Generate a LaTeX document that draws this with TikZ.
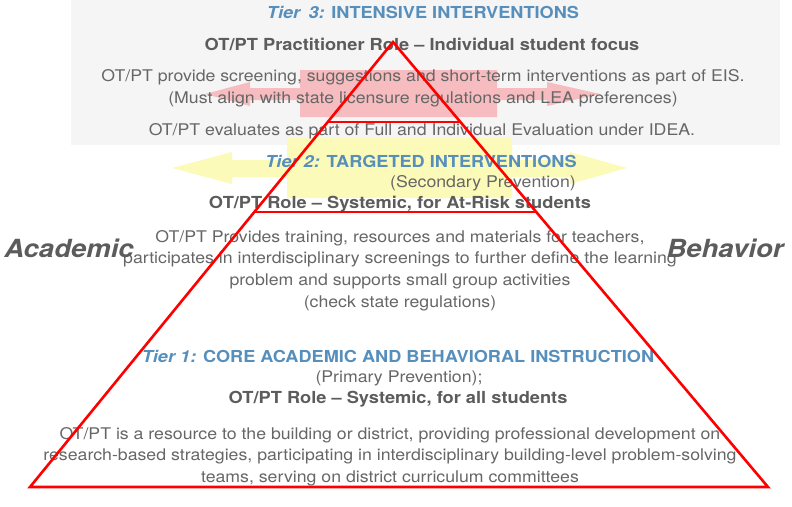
\documentclass[tikz,border=0pt]{standalone}
\usepackage{fontspec}
\setmainfont[FakeStretch=1.1]{TeX Gyre Heros}
\usepackage{xcolor}
\usetikzlibrary{positioning, calc}

\definecolor{tierblue}{RGB}{86,142,188}
\definecolor{txtgray}{RGB}{92,92,92}
\definecolor{bodygray}{RGB}{102,102,102}
\definecolor{bggray}{RGB}{245,245,245}
\definecolor{arrowpink}{RGB}{247,188,191}
\definecolor{arrowyellow}{RGB}{252,250,184}

\begin{document}
\begin{tikzpicture}[x=1pt, y=-1pt, every node/.style={anchor=center, inner sep=0pt, text=txtgray},
  tiertitle/.style={font=\fontsize{16.5}{18}\selectfont\bfseries, text=tierblue},
  rolebold/.style={font=\fontsize{16.6}{18}\selectfont\bfseries},
  bodytext/.style={font=\fontsize{16.1}{21.6}\selectfont, align=center, text=bodygray},
  sidelabel/.style={font=\fontsize{25}{28}\selectfont\bfseries\itshape}]

\useasboundingbox (0,0) rectangle (792,506);

% Tier 3 background and arrows
\fill[bggray] (71,0) rectangle (780,145);
\fill[arrowpink] (205,94) -- (250,82) -- (250,88) -- (300,88) -- (300,70) -- (497,70) -- (497,88)
  -- (547,88) -- (547,82) -- (600,94) -- (547,106) -- (547,100) -- (497,100) -- (497,117)
  -- (300,117) -- (300,100) -- (250,100) -- (250,106) -- cycle;
\fill[arrowyellow] (172,168) -- (232,152) -- (232,160) -- (287,160) -- (287,138) -- (512,138) -- (512,160)
  -- (570,160) -- (570,152) -- (627,168) -- (570,184) -- (570,177) -- (512,177) -- (512,198)
  -- (287,198) -- (287,177) -- (232,177) -- (232,184) -- cycle;

% Tier 3
\node[tiertitle] (tthree) at (423,12) {\textit{Tier\enspace3:} INTENSIVE INTERVENTIONS};
\node[rolebold] (tthreerole) at (422,44.5) {OT/PT Practitioner Role -- Individual student focus};
\node[bodytext] (tthreebody) at (423,88) {OT/PT provide screening, suggestions and short-term interventions as part of EIS.\\
  (Must align with state licensure regulations and LEA preferences)};
\node[bodytext] (tthreeeval) at (422,131.5) {OT/PT evaluates as part of Full and Individual Evaluation under IDEA.};

% Tier 2
\node[tiertitle] (ttwo) at (421,161.5) {\textit{Tier 2:} TARGETED INTERVENTIONS};
\node[bodytext, anchor=east] (ttwoprev) at (576,183.5) {(Secondary Prevention)};
\node[rolebold] (ttworole) at (400,204.5) {OT/PT Role -- Systemic, for At-Risk students};
\node[bodytext] (ttwobody) at (400,270.5) {OT/PT Provides training, resources and materials for teachers,\\
  participates in interdisciplinary screenings to further define the learning\\
  problem and supports small group activities\\
  (check state regulations)};

\node[sidelabel] (academic) at (69,248) {Academic};
\node[sidelabel] (behavior) at (725,248) {Behavior};

% Tier 1
\node[tiertitle] (tone) at (398,356.5) {\textit{Tier 1:} CORE ACADEMIC AND BEHAVIORAL INSTRUCTION};
\node[bodytext] (toneprev) at (399,378.5) {(Primary Prevention);};
\node[rolebold] (tonerole) at (398,399.5) {OT/PT Role -- Systemic, for all students};
\node[bodytext] (tonebody) at (390,456.5) {OT/PT is a resource to the building or district, providing professional development on\\
  research-based strategies, participating in interdisciplinary building-level problem-solving\\
  teams, serving on district curriculum committees};

% Pyramid
\coordinate (apex) at (393,42);
\coordinate (baseleft) at (30,487);
\coordinate (baseright) at (768,487);
\draw[red, line width=2.6pt, line join=miter] (apex) -- (baseright) -- (baseleft) -- cycle;
\foreach \t in {0.18,0.382} {
  \draw[red, line width=2.6pt] ($(apex)!\t!(baseleft)$) -- ($(apex)!\t!(baseright)$);
}

\end{tikzpicture}
\end{document}
